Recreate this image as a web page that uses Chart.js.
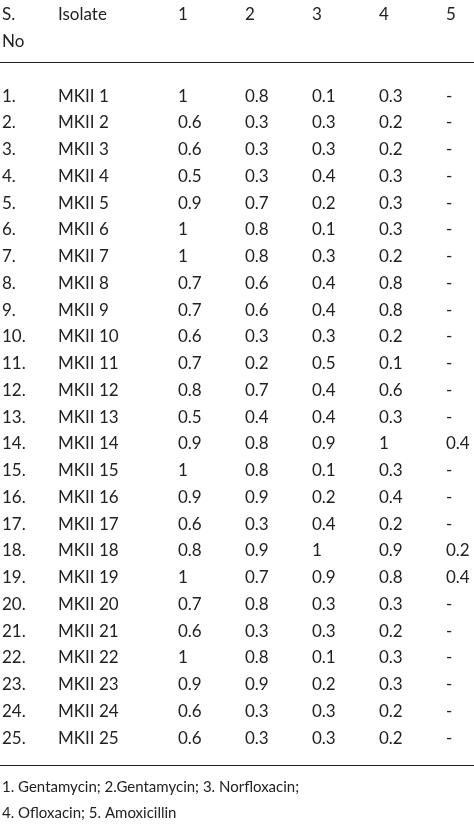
<!DOCTYPE html>
<html>
<head>
<meta charset="utf-8">
<script src="https://cdn.jsdelivr.net/npm/chart.js@4"></script>
<style>
  html, body { margin: 0; padding: 0; background: #fff; }
  #wrap { width: 474px; height: 824px; }
</style>
</head>
<body>
<div id="wrap"><canvas id="tabla"></canvas></div>
<script>
const headers = ["S.", "Isolate", "1", "2", "3", "4", "5"];
const serialNo = ["1.","2.","3.","4.","5.","6.","7.","8.","9.","10.","11.","12.","13.","14.","15.","16.","17.","18.","19.","20.","21.","22.","23.","24.","25."];
const isolates = serialNo.map((_, i) => "MKII " + (i + 1));
const col1 = ["1","0.6","0.6","0.5","0.9","1","1","0.7","0.7","0.6","0.7","0.8","0.5","0.9","1","0.9","0.6","0.8","1","0.7","0.6","1","0.9","0.6","0.6"];
const col2 = ["0.8","0.3","0.3","0.3","0.7","0.8","0.8","0.6","0.6","0.3","0.2","0.7","0.4","0.8","0.8","0.9","0.3","0.9","0.7","0.8","0.3","0.8","0.9","0.3","0.3"];
const col3 = ["0.1","0.3","0.3","0.4","0.2","0.1","0.3","0.4","0.4","0.3","0.5","0.4","0.4","0.9","0.1","0.2","0.4","1","0.9","0.3","0.3","0.1","0.2","0.3","0.3"];
const col4 = ["0.3","0.2","0.2","0.3","0.3","0.3","0.2","0.8","0.8","0.2","0.1","0.6","0.3","1","0.3","0.4","0.2","0.9","0.8","0.3","0.2","0.3","0.3","0.2","0.2"];
const col5 = ["-","-","-","-","-","-","-","-","-","-","-","-","-","0.4","-","-","-","0.2","0.4","-","-","-","-","-","-"];
const footnotes = ["1. Gentamycin; 2.Gentamycin; 3. Norfloxacin;", "4. Ofloxacin; 5. Amoxicillin"];

// layout (x in pixels, y in row units)
const colX = [2, 58, 178, 245, 312, 379, 446];
const headerY = -3.03, header2Y = -2.02, topLineY = -1.27, bottomLineY = 25.0, footY = [25.83, 26.8];

const columns = [serialNo, isolates, col1, col2, col3, col4, col5];
const cells = [];
columns.forEach((col, c) => col.forEach((t, r) => cells.push({ x: colX[c], y: r, t })));
headers.forEach((t, c) => cells.push({ x: colX[c], y: headerY, t }));
cells.push({ x: colX[0], y: header2Y, t: "No" });
footnotes.forEach((t, i) => cells.push({ x: colX[0], y: footY[i], t, small: true }));

const textPlugin = {
  id: "texto",
  afterDatasetsDraw(chart) {
    const { ctx, chartArea, scales } = chart;
    ctx.save();
    ctx.strokeStyle = "#222";
    ctx.lineWidth = 1;
    [topLineY, bottomLineY].forEach(v => {
      const y = Math.round(scales.y.getPixelForValue(v)) + 0.5;
      ctx.beginPath(); ctx.moveTo(chartArea.left, y); ctx.lineTo(chartArea.right, y); ctx.stroke();
    });
    ctx.fillStyle = "#222";
    ctx.textBaseline = "middle";
    const meta = chart.getDatasetMeta(0);
    meta.data.forEach((pt, i) => {
      const c = cells[i];
      ctx.font = (c.small ? "15px" : "17px") + " Lato, 'Open Sans', sans-serif";
      ctx.fillText(c.t, pt.x, pt.y);
    });
    ctx.restore();
  }
};

new Chart(document.getElementById("tabla"), {
  type: "scatter",
  data: { datasets: [{ data: cells.map(c => ({ x: c.x, y: c.y })), pointRadius: 0 }] },
  options: {
    responsive: true,
    maintainAspectRatio: false,
    animation: false,
    layout: { padding: 0 },
    plugins: { legend: { display: false }, tooltip: { enabled: false } },
    scales: {
      x: { type: "linear", min: 0, max: 474, display: false },
      y: { type: "linear", min: -3.589, max: 27.21, reverse: true, display: false }
    }
  },
  plugins: [textPlugin]
});
</script>
</body>
</html>
